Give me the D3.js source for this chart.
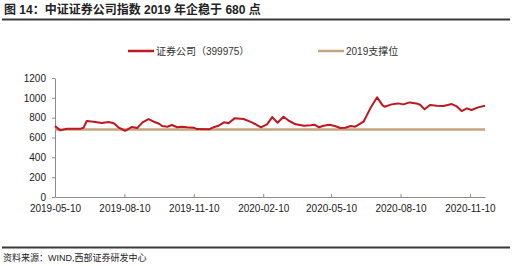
<!DOCTYPE html>
<html>
<head>
<meta charset="utf-8">
<script src="https://cdn.jsdelivr.net/npm/d3@7"></script>
<style>
  body { margin: 0; background: #fff; }
  text { font-family: "Liberation Sans", Arial, "Noto Sans CJK SC", sans-serif; }
  .cjk { font-family: "Liberation Sans", "Noto Sans CJK SC", sans-serif; }
</style>
</head>
<body>
<svg id="chart"></svg>
<script>
var dates = ['2019-05-10','2019-05-17','2019-05-26','2019-06-04','2019-06-13','2019-06-17','2019-06-21','2019-06-30',
  '2019-07-11','2019-07-20','2019-07-27','2019-08-02','2019-08-11','2019-08-20','2019-08-27','2019-09-03',
  '2019-09-11','2019-09-18','2019-09-25','2019-09-29','2019-10-06','2019-10-12','2019-10-19','2019-10-25',
  '2019-11-01','2019-11-10','2019-11-14','2019-11-30','2019-12-06','2019-12-13','2019-12-20','2019-12-26',
  '2020-01-03','2020-01-15','2020-01-26','2020-02-07','2020-02-15','2020-02-22','2020-02-29','2020-03-08',
  '2020-03-15','2020-03-24','2020-04-04','2020-04-13','2020-04-18','2020-04-24','2020-04-30','2020-05-08',
  '2020-05-16','2020-05-22','2020-05-29','2020-06-05','2020-06-11','2020-06-22','2020-07-01','2020-07-10',
  '2020-07-17','2020-07-20','2020-07-29','2020-08-07','2020-08-14','2020-08-22','2020-08-31','2020-09-05',
  '2020-09-11','2020-09-18','2020-09-27','2020-10-06','2020-10-17','2020-10-23','2020-10-30','2020-11-06',
  '2020-11-12','2020-11-21','2020-11-30'];

var indexValues = [716,672,689,689,689,699,766,759,
  746,756,743,703,668,706,695,753,
  786,759,739,716,709,726,703,709,
  703,699,685,682,703,719,753,743,
  793,786,753,703,733,806,749,809,
  769,733,719,723,729,703,719,729,
  713,696,699,716,709,759,894,1005,
  927,910,934,944,934,954,944,930,
  884,927,920,917,937,917,867,894,
  877,904,920];

var supportLevel = 680;
var yTicks = [0,200,400,600,800,1000,1200];
var xTickLabels = ['2019-05-10','2019-08-10','2019-11-10','2020-02-10','2020-05-10','2020-08-10','2020-11-10'];
var seriesNames = ['证券公司（399975）','2019支撑位'];

var title = '图 14：中证证券公司指数 2019 年企稳于 680 点';
var source = '资料来源：WIND,西部证券研发中心';

var largura = 513, altura = 266;
var svg = d3.select('#chart').attr('width', largura).attr('height', altura);

var margem = { esquerda: 55, direita: 28, superior: 78, inferior: 69 };

var parse = d3.timeParse('%Y-%m-%d');
var dados = dates.map(function (d, i) { return { data: parse(d), valor: indexValues[i] }; });

var x = d3.scaleTime()
  .domain([parse(dates[0]), parse(dates[dates.length - 1])])
  .range([margem.esquerda, largura - margem.direita]);
var y = d3.scaleLinear()
  .domain([0, 1200])
  .range([altura - margem.inferior, margem.superior]);

// titulo e linhas separadoras
svg.append('text')
  .attr('class', 'cjk')
  .attr('x', 4).attr('y', 14)
  .attr('font-size', 12).attr('font-weight', 'bold').attr('fill', '#222')
  .text(title);
svg.append('line')
  .attr('x1', 2).attr('x2', 510).attr('y1', 19.5).attr('y2', 19.5)
  .attr('stroke', '#3a3a3a').attr('stroke-width', 2);
svg.append('line')
  .attr('x1', 2).attr('x2', 510).attr('y1', 247.5).attr('y2', 247.5)
  .attr('stroke', '#3a3a3a').attr('stroke-width', 2);
svg.append('text')
  .attr('class', 'cjk')
  .attr('x', 3).attr('y', 261)
  .attr('font-size', 9).attr('fill', '#222')
  .text(source);

// eixos
var eixoY = svg.append('g')
  .attr('transform', 'translate(' + margem.esquerda + ',0)')
  .call(d3.axisLeft(y).tickValues(yTicks).tickFormat(d3.format('d'))
    .tickSize(3).tickPadding(6).tickSizeOuter(0));
var eixoX = svg.append('g')
  .attr('transform', 'translate(0,' + (altura - margem.inferior) + ')')
  .call(d3.axisBottom(x).tickValues(xTickLabels.map(parse)).tickSize(-3).tickPadding(8)
    .tickSizeOuter(0).tickFormat(d3.timeFormat('%Y-%m-%d')));

[eixoX, eixoY].forEach(function (g) {
  g.select('.domain').attr('stroke', '#8c8c8c');
  g.selectAll('.tick line').attr('stroke', '#8c8c8c');
  g.selectAll('.tick text').attr('font-size', 10).attr('fill', '#1a1a1a')
    .attr('font-family', '"Liberation Sans", Arial, sans-serif');
});

// series
svg.append('line')
  .attr('x1', x(dados[0].data)).attr('x2', x(dados[dados.length - 1].data))
  .attr('y1', y(supportLevel)).attr('y2', y(supportLevel))
  .attr('stroke', '#c4a37f').attr('stroke-width', 2.5);

svg.append('path')
  .datum(dados)
  .attr('fill', 'none')
  .attr('stroke', '#c0161f')
  .attr('stroke-width', 2)
  .attr('stroke-linejoin', 'round')
  .attr('d', d3.line().x(function (d) { return x(d.data); }).y(function (d) { return y(d.valor); }));

// legenda
var legenda = [
  { nome: seriesNames[0], cor: '#c0161f', x: 128 },
  { nome: seriesNames[1], cor: '#c4a37f', x: 318 }
];
var itens = svg.selectAll('.legenda')
  .data(legenda)
  .enter()
    .append('g')
    .classed('legenda', true)
    .attr('transform', function (d) { return 'translate(' + d.x + ',51)'; });
itens.append('line')
  .attr('x1', 0).attr('x2', 26).attr('y1', 0).attr('y2', 0)
  .attr('stroke', function (d) { return d.cor; }).attr('stroke-width', 2.5);
itens.append('text')
  .attr('class', 'cjk')
  .attr('x', 28).attr('dy', '0.35em')
  .attr('font-size', 10).attr('fill', '#333')
  .text(function (d) { return d.nome; });
</script>
</body>
</html>
